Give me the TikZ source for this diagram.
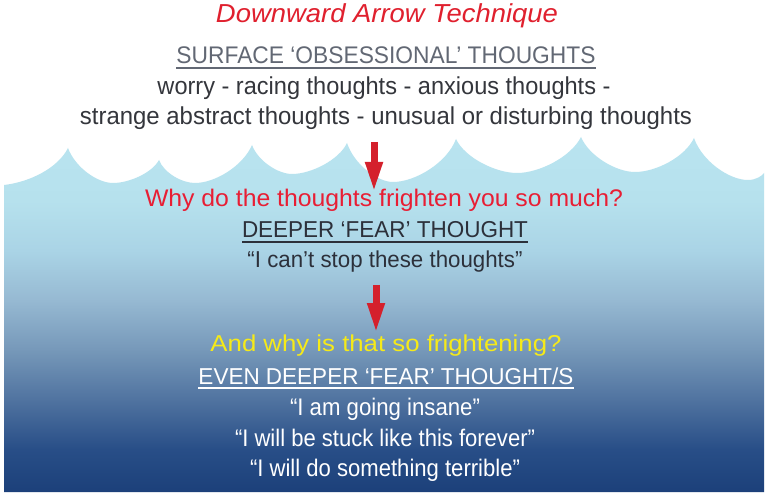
\documentclass[tikz,border=0pt]{standalone}
\usepackage{fontspec}
\setmainfont{Liberation Sans}
\usetikzlibrary{arrows.meta}
\definecolor{ttlred}{RGB}{224,32,46}
\definecolor{qred}{RGB}{232,30,52}
\definecolor{surfgray}{RGB}{98,104,116}
\definecolor{darktxt}{RGB}{52,54,60}
\definecolor{deeptxt}{RGB}{44,48,58}
\definecolor{qyellow}{RGB}{246,234,24}
\definecolor{arrred}{RGB}{212,32,44}
\definecolor{wd0}{RGB}{28,64,122}
\definecolor{wd1}{RGB}{40,78,135}
\definecolor{wd2}{RGB}{80,115,160}
\definecolor{wd3}{RGB}{118,152,185}
\definecolor{wd4}{RGB}{150,185,210}
\definecolor{wd5}{RGB}{170,212,230}
\definecolor{wd6}{RGB}{182,225,237}
\definecolor{wd7}{RGB}{185,228,240}
\pgfdeclareverticalshading{water}{100bp}{color(0bp)=(wd0); color(25bp)=(wd0); color(31bp)=(wd1); color(38bp)=(wd2); color(45bp)=(wd3); color(52bp)=(wd4); color(59bp)=(wd5); color(66bp)=(wd6); color(75bp)=(wd7); color(100bp)=(wd7)}
\newcommand\fitw[2]{\resizebox{#1pt}{\height}{#2}}
\tikzset{
  txt/.style={anchor=base, inner sep=0pt, outer sep=0pt},
  uline/.style={line width=1.4pt},
  redarrow/.style={arrred, line width=7pt, -{Triangle[width=16pt,length=30pt]}}
}
\begin{document}
\begin{tikzpicture}[x=1pt,y=-1pt]
\useasboundingbox (0,0) rectangle (768,494);
\fill[white] (0,0) rectangle (768,494);
% water
\shade[shading=water] (4,185)
 .. controls (30,182) and (58,168) .. (68,148)
 .. controls (75,167) and (97,183) .. (113,183)
 .. controls (129,183) and (152,173) .. (159,160)
 .. controls (164,173) and (182,183) .. (195,183)
 .. controls (215,183) and (243,166) .. (252,145)
 .. controls (258,161) and (278,174) .. (292,174)
 .. controls (311,174) and (339,160) .. (347,143)
 .. controls (354,164) and (377,182) .. (393,182)
 .. controls (415,182) and (447,163) .. (456,139)
 .. controls (465,158) and (496,173) .. (517,173)
 .. controls (539,173) and (571,157) .. (581,137)
 .. controls (589,156) and (616,172) .. (635,172)
 .. controls (656,172) and (685,157) .. (694,138)
 .. controls (702,161) and (729,180) .. (748,180)
 .. controls (756,180) and (762,176) .. (764,173)
 -- (764,492) -- (4,492) -- cycle;
% texts
\node[txt, text=ttlred, font=\fontsize{26}{30}\selectfont\itshape] (title) at (387,23) {\fitw{342}{Downward Arrow Technique}};
\node[txt, text=surfgray, font=\fontsize{24}{28}\selectfont] (surf) at (386,64) {\fitw{419}{SURFACE ‘OBSESSIONAL’ THOUGHTS}};
\draw[uline, surfgray] ([yshift=-4pt]surf.base west) -- ([yshift=-4pt]surf.base east);
\node[txt, text=darktxt, font=\fontsize{24.5}{28}\selectfont] (worry) at (384,95) {\fitw{453}{worry - racing thoughts - anxious thoughts -}};
\node[txt, text=darktxt, font=\fontsize{24.5}{28}\selectfont] (strange) at (386,125) {\fitw{612}{strange abstract thoughts - unusual or disturbing thoughts}};
\node[txt, text=qred, font=\fontsize{24}{28}\selectfont] (why) at (384,207) {\fitw{478}{Why do the thoughts frighten you so much?}};
\node[txt, text=deeptxt, font=\fontsize{23}{28}\selectfont] (deeper) at (385,238) {\fitw{286}{DEEPER ‘FEAR’ THOUGHT}};
\draw[uline, deeptxt] ([yshift=-4pt]deeper.base west) -- ([yshift=-4pt]deeper.base east);
\node[txt, text=deeptxt, font=\fontsize{23}{28}\selectfont] (cant) at (385,268) {\fitw{275}{“I can’t stop these thoughts”}};
\node[txt, text=qyellow, font=\fontsize{23}{28}\selectfont] (andwhy) at (386,351) {\fitw{351}{And why is that so frightening?}};
\node[txt, text=white, font=\fontsize{23}{28}\selectfont] (even) at (386,384) {\fitw{375}{EVEN DEEPER ‘FEAR’ THOUGHT/S}};
\draw[uline, white] ([yshift=-4pt]even.base west) -- ([yshift=-4pt]even.base east);
\node[txt, text=white, font=\fontsize{24}{28}\selectfont] (insane) at (385,415) {\fitw{190}{“I am going insane”}};
\node[txt, text=white, font=\fontsize{24}{28}\selectfont] (stuck) at (385,446) {\fitw{300}{“I will be stuck like this forever”}};
\node[txt, text=white, font=\fontsize{24}{28}\selectfont] (terrible) at (385,476) {\fitw{270}{“I will do something terrible”}};
% arrows
\coordinate (a1s) at (374,142);
\coordinate (a1e) at (374,192);
\coordinate (a2s) at (376,285);
\coordinate (a2e) at (376,333);
\draw[redarrow] (a1s) -- (a1e);
\draw[redarrow] (a2s) -- (a2e);
\end{tikzpicture}
\end{document}
